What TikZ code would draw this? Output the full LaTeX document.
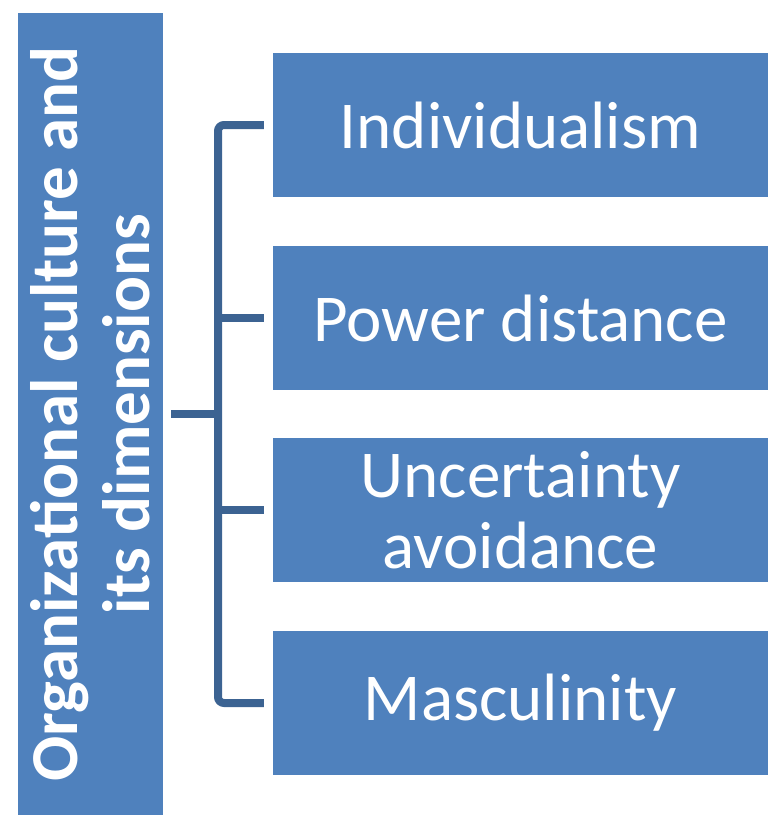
\documentclass[tikz,border=0pt]{standalone}
\usepackage{fontspec}
\setmainfont{Carlito}
\definecolor{boxblue}{RGB}{79,129,189}
\definecolor{linkblue}{RGB}{60,99,146}
\begin{document}
\begin{tikzpicture}[x=1pt,y=-1pt,
  dimbox/.style={fill=boxblue, draw=none, minimum width=495pt, minimum height=144pt,
    inner sep=0pt, text=white, font=\fontsize{67}{71}\selectfont, align=center},
  rootbox/.style={fill=boxblue, draw=none, minimum width=802pt, minimum height=145pt,
    inner sep=0pt, text=white, font=\bfseries\fontsize{67}{72}\selectfont, align=center},
  conn/.style={draw=linkblue, line width=8pt, rounded corners=6pt}]
\useasboundingbox (0,0) rectangle (784,830);
\node[rootbox, rotate=90] (root) at (90.5,414) {Organizational culture and\\its dimensions};
\node[dimbox] (d1) at (520.5,125) {Individualism};
\node[dimbox] (d2) at (520.5,318) {Power distance};
\node[dimbox] (d3) at (520.5,510) {Uncertainty\\avoidance};
\node[dimbox] (d4) at (520.5,703) {Masculinity};
\coordinate (sp) at (218,414);
\draw[conn] ([xshift=8pt]root.south) -- (sp);
\draw[conn] ([xshift=-9pt]d1.west) -| (sp) |- ([xshift=-9pt]d4.west);
\draw[conn] ([xshift=-9pt]d2.west) -- (d2.west -| sp);
\draw[conn] ([xshift=-9pt]d3.west) -- (d3.west -| sp);
\end{tikzpicture}
\end{document}
